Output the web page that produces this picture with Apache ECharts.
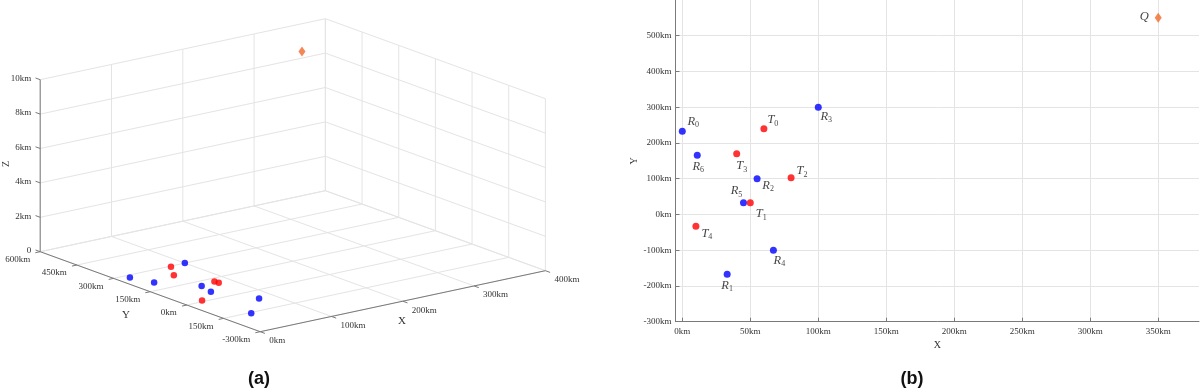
<!DOCTYPE html>
<html><head><meta charset="utf-8">
<script src="https://cdn.jsdelivr.net/npm/echarts@6/dist/echarts.min.js"></script>
<style>html,body{margin:0;padding:0;background:#fff}#c{width:1200px;height:391px}</style>
</head><body><div id="c"></div>
<script>
// ---------------- DATA ----------------
const receiverNames = ['R0','R1','R2','R3','R4','R5','R6'];
const receiverX = [0, 33, 55, 100, 67, 45, 11];          // km
const receiverY = [233, -167, 100, 300, -100, 33, 166];  // km
const receiverZ = [0.4, 0.1, 0.1, 0, 0.3, 0.2, 0.35];    // km

const transmitterNames = ['T0','T1','T2','T3','T4'];
const transmitterX = [60, 50, 80, 40, 10];
const transmitterY = [240, 33, 103, 170, -33];
const transmitterZ = [0.45, 0.75, 0.05, 0.5, 0.35];

const targetNames = ['Q'];
const targetX = [350];
const targetY = [550];
const targetZ = [8.8];

// 3D axes (panel a)
const xRange3d = [0, 400];
const yRange3d = [-300, 600];
const zRange3d = [0, 10];
const xTicks3d = [0, 100, 200, 300, 400];
const xTickLabels3d = ['0km', '100km', '200km', '300km', '400km'];
const yTicks3d = [-300, -150, 0, 150, 300, 450, 600];
const yTickLabels3d = ['-300km', '150km', '0km', '150km', '300km', '450km', '600km'];
const zTicks3d = [0, 2, 4, 6, 8, 10];
const zTickLabels3d = ['0', '2km', '4km', '6km', '8km', '10km'];

// 2D axes (panel b)
const xRange2d = [-5, 380];
const yRange2d = [-300, 600];
const xTicks2d = [0, 50, 100, 150, 200, 250, 300, 350];
const yTicks2d = [-300, -200, -100, 0, 100, 200, 300, 400, 500];

// ---------------- STYLE ----------------
const SERIF = '"Liberation Serif", "Times New Roman", serif';
const BLUE = '#0000ff', RED = '#ff0000', ORANGE = '#f0692a';
const GRID_C = '#e4e4e4', AXIS_C = '#7a7a7a', TXT_C = '#333';

// projected-view basis (orthographic view of the 3D box), in units of the hidden axes
const VX = [285.2, 61], VY = [-220, 80], VZ = 172;
function proj(x, y, z) {
  const u = (x - xRange3d[0]) / (xRange3d[1] - xRange3d[0]);
  const v = (y - yRange3d[0]) / (yRange3d[1] - yRange3d[0]);
  const w = (z - zRange3d[0]) / (zRange3d[1] - zRange3d[0]);
  return [u * VX[0] + v * VY[0], u * VX[1] + v * VY[1] + w * VZ];
}
function norm(a) { const l = Math.hypot(a[0], a[1]); return [a[0] / l, a[1] / l]; }
const dirX = norm([VX[0], -VX[1]]), dirY = norm([VY[0], -VY[1]]);

const gridSegs = [];
const [x0, x1] = xRange3d, [y0, y1] = yRange3d, [z0, z1] = zRange3d;
xTicks3d.forEach(t => { gridSegs.push([t, y0, z0, t, y1, z0]); gridSegs.push([t, y1, z0, t, y1, z1]); });
yTicks3d.forEach(t => { gridSegs.push([x0, t, z0, x1, t, z0]); gridSegs.push([x1, t, z0, x1, t, z1]); });
zTicks3d.forEach(t => { gridSegs.push([x0, y1, t, x1, y1, t]); gridSegs.push([x1, y0, t, x1, y1, t]); });
const axisSegs = [
  [x0, y0, z0, x1, y0, z0],
  [x0, y0, z0, x0, y1, z0],
  [x0, y1, z0, x0, y1, z1]
];
function segData(segs) { return segs.map(s => proj(s[0], s[1], s[2]).concat(proj(s[3], s[4], s[5]))); }

const tickItems = [];
xTicks3d.forEach((t, i) => tickItems.push({ p: proj(t, y0, z0), text: xTickLabels3d[i], td: [-dirY[0], -dirY[1]], off: [9, 9], align: 'left' }));
yTicks3d.forEach((t, i) => tickItems.push({ p: proj(x0, t, z0), text: yTickLabels3d[i], td: [-dirX[0], -dirX[1]], off: [-10, 8], align: 'right' }));
zTicks3d.forEach((t, i) => tickItems.push({ p: proj(x0, y1, t), text: zTickLabels3d[i], td: [dirY[0], dirY[1]], off: [-9, -1], align: 'right' }));

function segRender(color) {
  return function (params, api) {
    const a = api.coord([api.value(0), api.value(1)]);
    const b = api.coord([api.value(2), api.value(3)]);
    return { type: 'line', shape: { x1: a[0], y1: a[1], x2: b[0], y2: b[1] }, style: { stroke: color, lineWidth: 1 } };
  };
}
function tickRender(params, api) {
  const it = tickItems[params.dataIndex];
  const a = api.coord([api.value(0), api.value(1)]);
  return {
    type: 'group', children: [
      { type: 'line', shape: { x1: a[0], y1: a[1], x2: a[0] + it.td[0] * 5, y2: a[1] + it.td[1] * 5 }, style: { stroke: AXIS_C, lineWidth: 1 } },
      { type: 'text', x: a[0] + it.off[0], y: a[1] + it.off[1], style: { text: it.text, fontSize: 9, fontFamily: SERIF, fill: TXT_C, align: it.align, verticalAlign: 'middle' } }
    ]
  };
}

const labelOffsets = {
  R0: [11, -9], R1: [0, 12], R2: [11, 7], R3: [8, 10], R4: [6, 11], R5: [-7, -11], R6: [1, 12],
  T0: [9, -8], T1: [11, 12], T2: [11, -6], T3: [5, 13], T4: [11, 8], Q: [-14, -1]
};
const richLbl = {
  m: { fontFamily: SERIF, fontStyle: 'italic', fontSize: 12.5, color: '#111', verticalAlign: 'top', padding: [0, 0, 0, 0] },
  s: { fontFamily: SERIF, fontSize: 8, color: '#111', verticalAlign: 'top', padding: [6, 0, 0, 0] }
};
function mkLabelData(names, xs, ys) {
  return xs.map((x, i) => {
    const n = names[i];
    return {
      value: [x, ys[i]], name: n,
      label: {
        show: true, position: 'inside', offset: labelOffsets[n],
        formatter: n.length > 1 ? '{m|' + n[0] + '}{s|' + n.slice(1) + '}' : '{m|' + n + '}',
        rich: richLbl
      }
    };
  });
}

const axisLabelStyle = { fontFamily: SERIF, fontSize: 9, color: TXT_C };

const option = {
  animation: false,
  backgroundColor: '#fff',
  grid: [
    { left: 675.5, right: 1, top: 0, bottom: 69.3, show: false },
    { left: 40.2, top: 18.7, width: 505.2, height: 313, show: false }
  ],
  xAxis: [
    {
      gridIndex: 0, type: 'value', min: xRange2d[0], max: xRange2d[1],
      name: 'X', nameLocation: 'middle', nameGap: 19,
      nameTextStyle: { fontFamily: SERIF, fontSize: 10, color: TXT_C },
      axisLine: { show: true, onZero: false, lineStyle: { color: AXIS_C } },
      axisTick: { show: true, inside: true, length: 4, customValues: xTicks2d, lineStyle: { color: AXIS_C } },
      axisLabel: { customValues: xTicks2d, formatter: v => v + 'km', margin: 5, ...axisLabelStyle },
      splitLine: { show: true, lineStyle: { color: GRID_C } }
    },
    { gridIndex: 1, type: 'value', min: VY[0], max: VX[0], show: false }
  ],
  yAxis: [
    {
      gridIndex: 0, type: 'value', min: yRange2d[0], max: yRange2d[1],
      name: 'Y', nameLocation: 'middle', nameGap: 36,
      nameTextStyle: { fontFamily: SERIF, fontSize: 10, color: TXT_C },
      axisLine: { show: true, onZero: false, lineStyle: { color: AXIS_C } },
      axisTick: { show: true, inside: true, length: 4, customValues: yTicks2d, lineStyle: { color: AXIS_C } },
      axisLabel: { customValues: yTicks2d, formatter: v => v + 'km', margin: 4, ...axisLabelStyle },
      splitLine: { show: true, lineStyle: { color: GRID_C } }
    },
    { gridIndex: 1, type: 'value', min: 0, max: VX[1] + VY[1] + VZ, show: false }
  ],
  graphic: [
    { type: 'text', left: 398, top: 316, style: { text: 'X', fontFamily: SERIF, fontSize: 11, fill: TXT_C } },
    { type: 'text', left: 122, top: 310, style: { text: 'Y', fontFamily: SERIF, fontSize: 11, fill: TXT_C } },
    { type: 'text', x: 1, y: 167, rotation: Math.PI / 2, style: { text: 'Z', fontFamily: SERIF, fontSize: 10, fill: TXT_C } },
    { type: 'text', x: 259, y: 379, style: { text: '(a)', fontFamily: '"Liberation Sans", Arial, sans-serif', fontWeight: 'bold', fontSize: 18, fill: '#111', align: 'center', verticalAlign: 'middle' } },
    { type: 'text', x: 912, y: 379, style: { text: '(b)', fontFamily: '"Liberation Sans", Arial, sans-serif', fontWeight: 'bold', fontSize: 18, fill: '#111', align: 'center', verticalAlign: 'middle' } }
  ],
  series: [
    { type: 'custom', xAxisIndex: 1, yAxisIndex: 1, clip: false, silent: true, renderItem: segRender(GRID_C), data: segData(gridSegs), z: 1 },
    { type: 'custom', xAxisIndex: 1, yAxisIndex: 1, clip: false, silent: true, renderItem: segRender(AXIS_C), data: segData(axisSegs), z: 2 },
    { type: 'custom', xAxisIndex: 1, yAxisIndex: 1, clip: false, silent: true, renderItem: tickRender, data: tickItems.map(t => t.p), z: 2 },
    { type: 'scatter', xAxisIndex: 1, yAxisIndex: 1, symbol: 'circle', symbolSize: 6.5, itemStyle: { color: BLUE }, z: 3,
      data: receiverX.map((x, i) => proj(x, receiverY[i], receiverZ[i])) },
    { type: 'scatter', xAxisIndex: 1, yAxisIndex: 1, symbol: 'circle', symbolSize: 6.5, itemStyle: { color: RED }, z: 3,
      data: transmitterX.map((x, i) => proj(x, transmitterY[i], transmitterZ[i])) },
    { type: 'scatter', xAxisIndex: 1, yAxisIndex: 1, symbol: 'diamond', symbolSize: [7, 10], itemStyle: { color: ORANGE }, z: 3,
      data: targetX.map((x, i) => proj(x, targetY[i], targetZ[i])) },
    { type: 'scatter', xAxisIndex: 0, yAxisIndex: 0, symbol: 'circle', symbolSize: 7, itemStyle: { color: BLUE }, z: 3,
      data: mkLabelData(receiverNames, receiverX, receiverY) },
    { type: 'scatter', xAxisIndex: 0, yAxisIndex: 0, symbol: 'circle', symbolSize: 7, itemStyle: { color: RED }, z: 3,
      data: mkLabelData(transmitterNames, transmitterX, transmitterY) },
    { type: 'scatter', xAxisIndex: 0, yAxisIndex: 0, symbol: 'diamond', symbolSize: [7, 10], itemStyle: { color: ORANGE }, z: 3,
      data: mkLabelData(targetNames, targetX, targetY) }
  ]
};
const chart = echarts.init(document.getElementById('c'));
chart.setOption(option);
</script>
</body></html>
